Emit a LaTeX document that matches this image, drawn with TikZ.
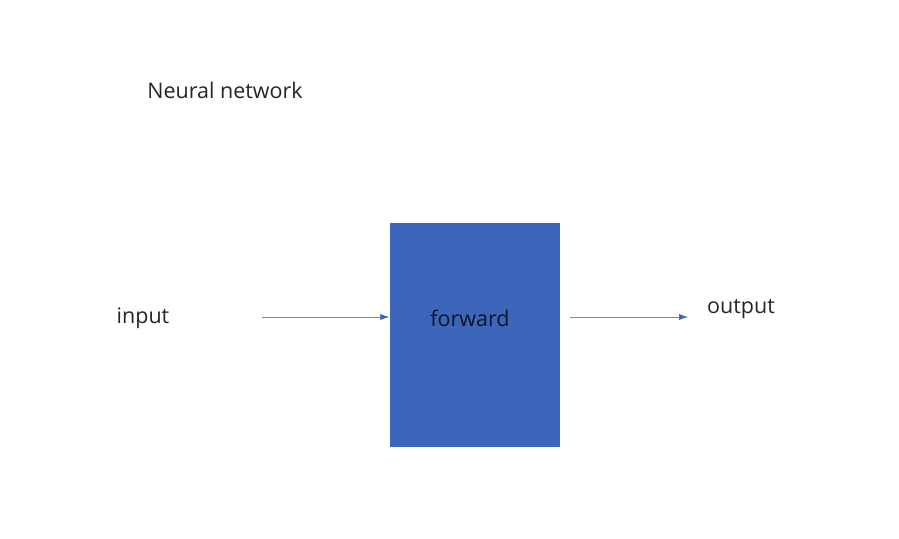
\documentclass[tikz,border=0pt]{standalone}
\usepackage{fontspec}
\setmainfont{Open Sans}
\definecolor{boxblue}{RGB}{59,102,186}
\definecolor{linegray}{RGB}{120,135,170}
\definecolor{arrblue}{RGB}{60,100,180}
\usetikzlibrary{arrows.meta}

\begin{document}
\begin{tikzpicture}[x=1pt, y=-1pt, font=\fontsize{21.5}{26}\selectfont, text=black!85]
            \useasboundingbox (0,0) rectangle (899,538);
            \node (title) at (225,90) {Neural network};
            \node[fill=boxblue, minimum width=170pt, minimum height=224pt, inner sep=0pt] (fwd) at (474.5,335) {};
            \node[text=black!80!boxblue] (fwdtext) at (470,318) {forward};
            \node (in) at (143,318) {input};
            \node (out) at (741,309) {output};
            \coordinate (instart) at (262,317); \coordinate (outend) at (688,317);
            \draw[linegray, line width=0.6pt, -{Latex[length=9pt, width=6pt, fill=arrblue, color=arrblue]}] (instart) -- (fwd.west |- instart);
            \draw[linegray, line width=0.6pt, -{Latex[length=9pt, width=6pt, fill=arrblue, color=arrblue]}] ([xshift=10pt]fwd.east |- outend) -- (outend);
        \end{tikzpicture}
\end{document}
